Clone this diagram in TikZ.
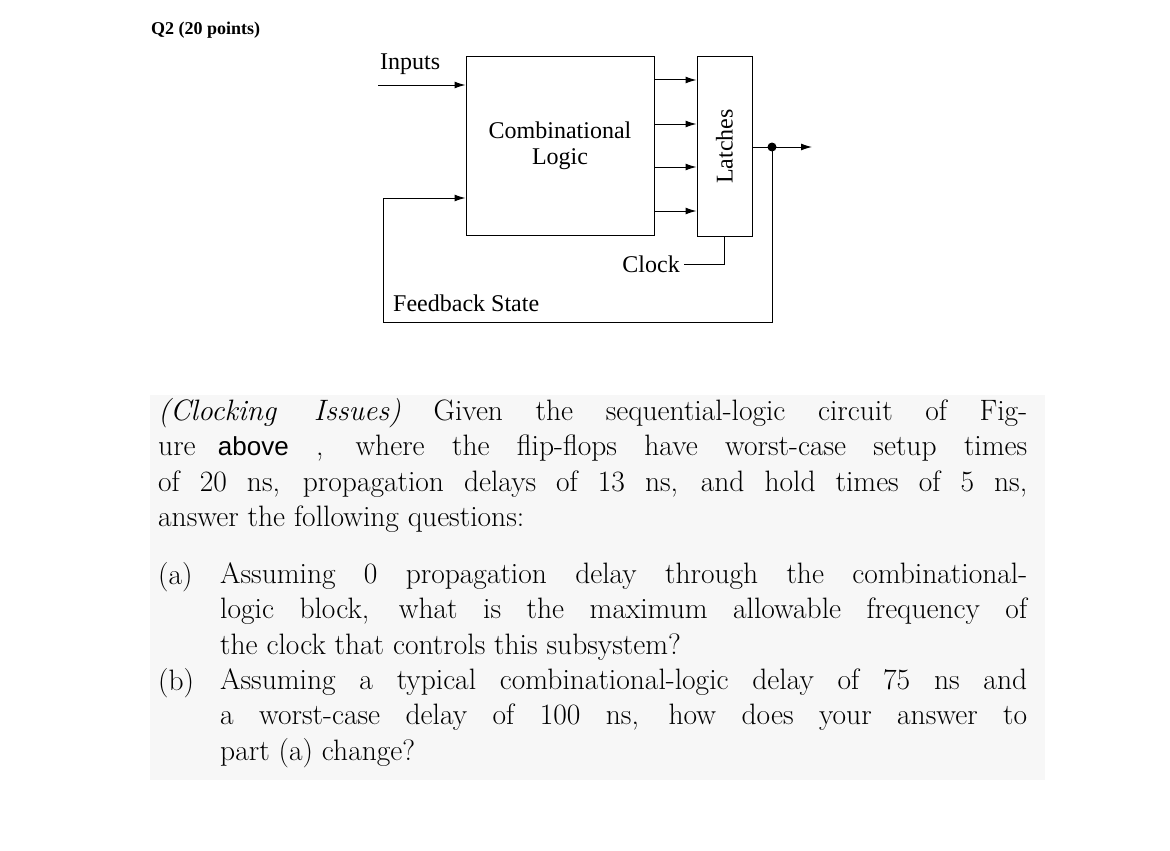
\documentclass[tikz,border=0pt]{standalone}
\usepackage{fontspec}
\newfontfamily\timesf{Liberation Serif}
\newfontfamily\sansf{Liberation Sans}
\usetikzlibrary{arrows.meta}
\begin{document}
\begin{tikzpicture}[x=1pt,y=-1pt,
  wire/.style={line width=1pt},
  arr/.style={wire,-{Latex[length=11pt,width=7pt]}},
  lbl/.style={font=\timesf\fontsize{24}{26}\selectfont,inner sep=0},
  para/.style={font=\fontsize{29.5}{35.5}\selectfont,inner sep=0,anchor=north west,align=justify}]
\useasboundingbox (0,0) rectangle (1170,851);
\fill[black!3] (150,395) rectangle (1045,780);
\node[font=\timesf\bfseries\fontsize{18}{20}\selectfont,anchor=west,inner sep=0] (q) at (151,30) {Q2 (20 points)};
% blocks
\node[draw,wire,minimum width=188pt,minimum height=178pt,inner sep=0] (cl) at (560,146) {};
\node[lbl,align=center] (clt) at (560,146) {Combinational\\Logic};
\node[draw,wire,minimum width=55pt,minimum height=179pt,inner sep=0] (la) at (724.5,146.5) {};
\node[lbl,rotate=90] (lat) at (724.5,146.5) {Latches};
\foreach \y in {80,124,167,211}{
  \draw[arr] (cl.east |- 0,\y) -- (la.west |- 0,\y);
}
\coordinate (in0) at (378,85);
\draw[arr] (in0) -- (cl.west |- in0);
\node[lbl,anchor=south west] (inl) at (380,75) {Inputs};
\coordinate (dot) at (772,147);
\coordinate (outend) at (812,147);
\draw[wire] (la.east |- dot) -- (dot);
\draw[arr] (dot) -- (outend);
\fill (dot) circle (4.5pt);
\coordinate (fbr) at (772,322);
\coordinate (fbl) at (383,322);
\coordinate (fbt) at (383,198);
\draw[wire] (dot) -- (fbr) -- (fbl) -- (fbt);
\draw[arr] (fbt) -- (cl.west |- fbt);
\node[lbl,anchor=west] (fbs) at (393,303) {Feedback State};
\node[lbl,anchor=east] (clk) at (680,264) {Clock};
\draw[wire] (clk.east) ++(4,0) -| (la.south);
% text
\node[para,text width=869pt] (p) at (158,398) {\textit{(Clocking Issues)} Given the sequential-logic circuit of Fig-\linebreak ure{\sansf\fontsize{26}{30}\selectfont\ above} , where the flip-flops have worst-case setup times\linebreak of 20 ns, propagation delays of 13 ns, and hold times of 5 ns,\linebreak answer the following questions:};
\node[para,anchor=north west] (a) at (158,562) {(a)};
\node[para,text width=807pt] (at) at (220,562) {Assuming 0 propagation delay through the combinational-\linebreak logic block, what is the maximum allowable frequency of\linebreak the clock that controls this subsystem?};
\node[para,anchor=north west] (b) at (158,668) {(b)};
\node[para,text width=807pt] (bt) at (220,668) {Assuming a typical combinational-logic delay of 75 ns and\linebreak a worst-case delay of 100 ns, how does your answer to\linebreak part (a) change?};
\end{tikzpicture}
\end{document}
